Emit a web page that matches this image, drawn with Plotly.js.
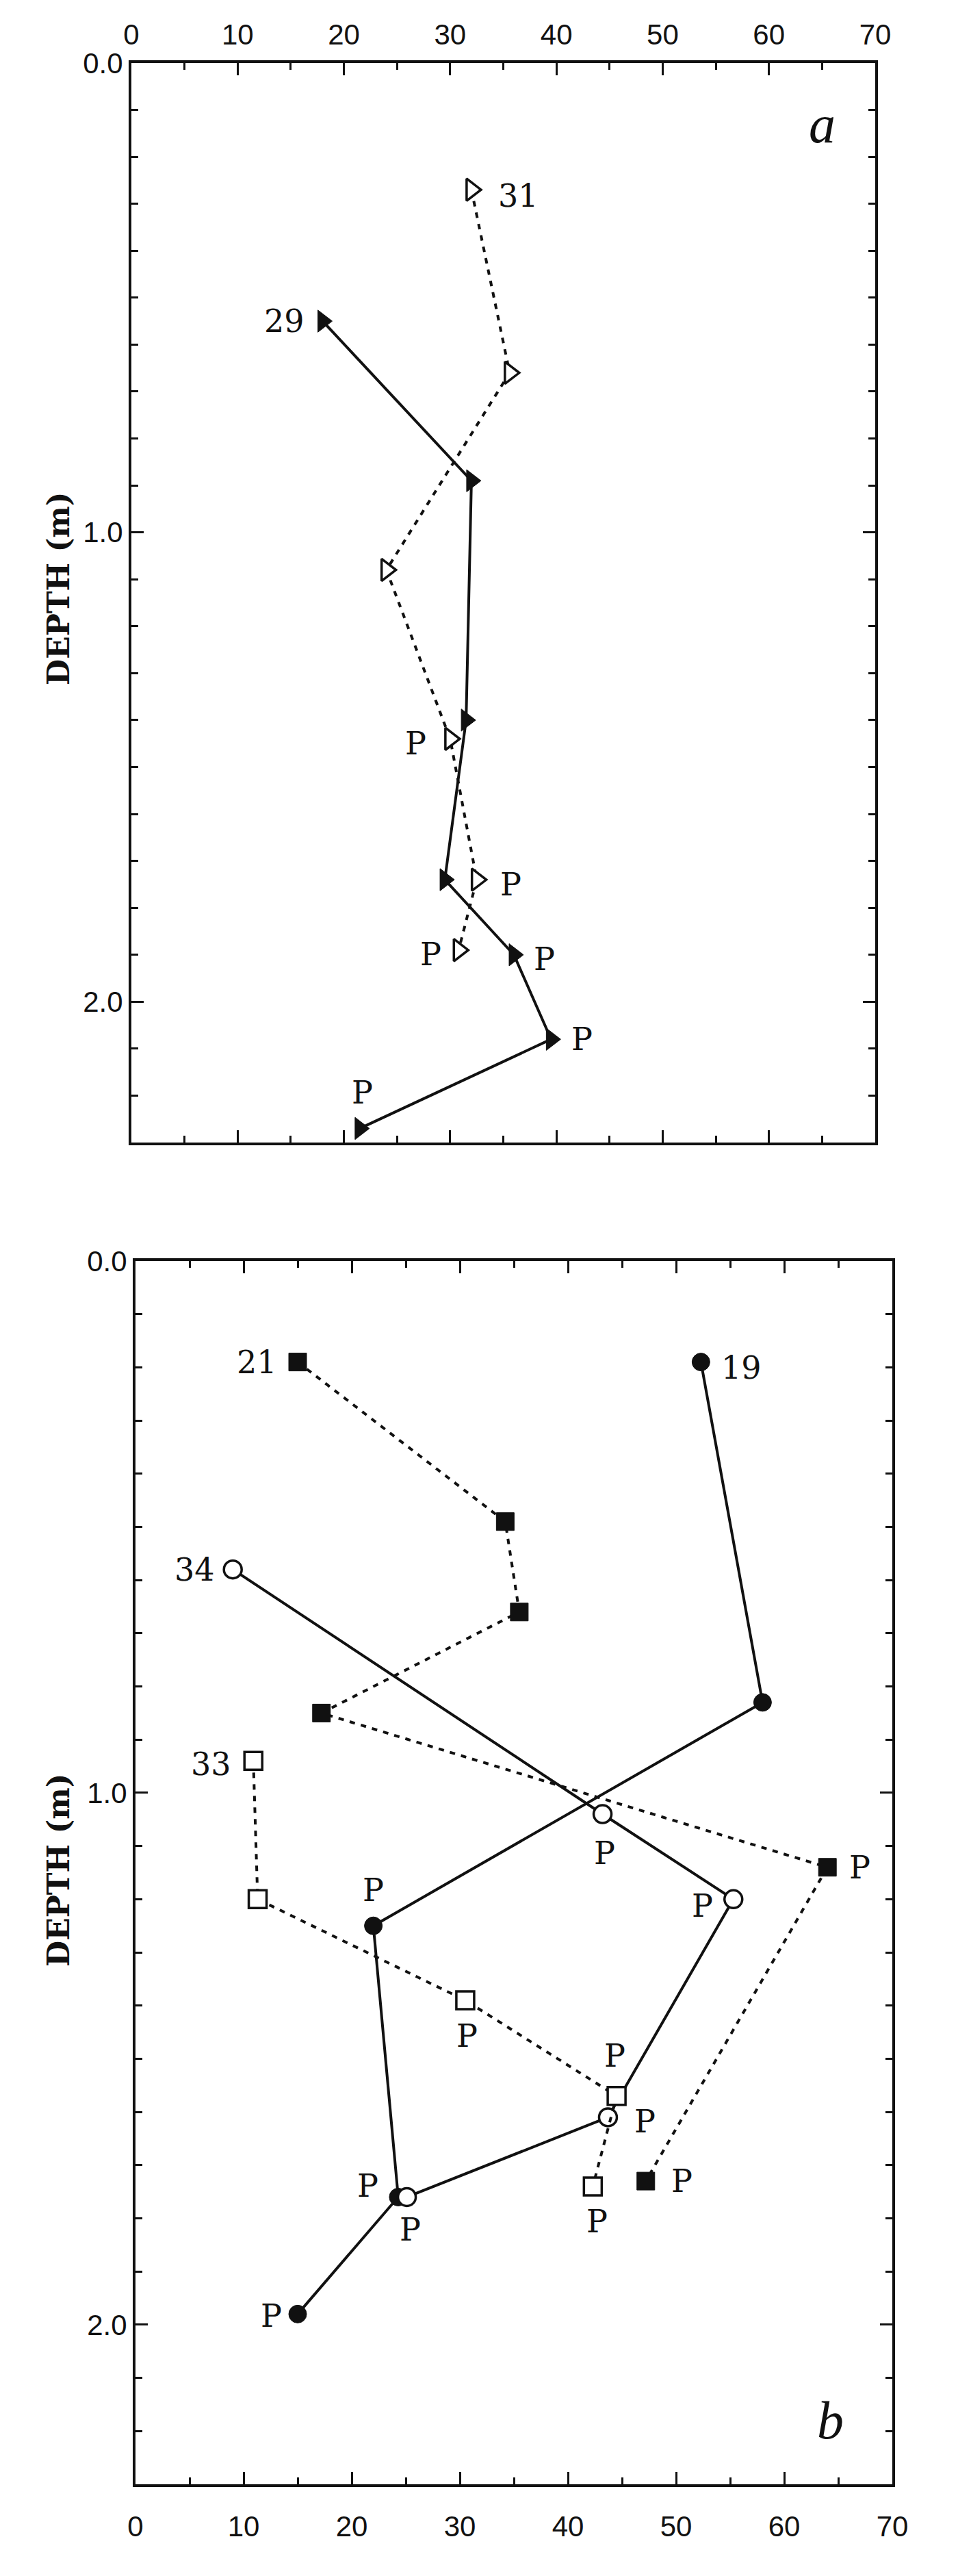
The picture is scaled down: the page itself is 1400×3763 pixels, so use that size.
<!DOCTYPE html>
<html>
<head>
<meta charset="utf-8">
<script src="https://cdn.plot.ly/plotly-3.0.1.min.js"></script>
<style>
html,body{margin:0;padding:0;background:#fff;}
#chart{width:1400px;height:3763px;}
</style>
</head>
<body>
<div id="chart"></div>
<script>
// ---- Panel a data (x value, depth in m) ----
const x29 = [18, 32, 31.5, 29.5, 36, 39.5, 21.5];
const d29 = [0.55, 0.89, 1.40, 1.74, 1.90, 2.08, 2.27];
const x31 = [32, 35.6, 24, 30, 32.5, 30.8];
const d31 = [0.27, 0.66, 1.08, 1.44, 1.74, 1.89];
// ---- Panel b data ----
const x19 = [52.3, 58, 22, 24.3, 15];
const d19 = [0.19, 0.83, 1.25, 1.76, 1.98];
const x34 = [9, 43.2, 55.3, 43.7, 25.1];
const d34 = [0.58, 1.04, 1.20, 1.61, 1.76];
const x33 = [10.9, 11.3, 30.5, 44.5, 42.3];
const d33 = [0.94, 1.20, 1.39, 1.57, 1.74];
const x21 = [15, 34.2, 35.5, 17.2, 64, 47.2];
const d21 = [0.19, 0.49, 0.66, 0.85, 1.14, 1.73];

const xTickVals = [0, 10, 20, 30, 40, 50, 60, 70];
const depthTickVals = [0, 1, 2];
const depthTickText = ['0.0', '1.0', '2.0'];

const W = 1400, H = 3763;
const SERIF = '"DejaVu Serif", "Liberation Serif", serif';
const SANS = '"Liberation Sans", Arial, sans-serif';

function line(xs, ys, xa, ya, symbol, dash, open) {
  return {
    x: xs, y: ys, xaxis: xa, yaxis: ya, type: 'scatter', mode: 'lines+markers',
    line: {color: '#111', width: 4, dash: dash ? '8px,9px' : 'solid'},
    marker: {symbol: symbol, size: symbol.indexOf('triangle') === 0 ? 28 : 26,
             color: open ? '#fff' : '#111', line: {color: '#111', width: open ? 3.5 : 1}},
    showlegend: false, hoverinfo: 'skip', cliponaxis: false
  };
}

const traces = [
  line(x29, d29, 'x', 'y', 'triangle-right', false, false),
  line(x31, d31, 'x', 'y', 'triangle-right', true, true),
  line(x19, d19, 'x2', 'y2', 'circle', false, false),
  line(x34, d34, 'x2', 'y2', 'circle', false, true),
  line(x33, d33, 'x2', 'y2', 'square', true, true),
  line(x21, d21, 'x2', 'y2', 'square', true, false)
];

// label placements: [xs, ys, index, text, xshift, yshift(down positive), axis suffix]
const labelSpecs = [
  [x31, d31, 0, '31', 69, 9, ''],
  [x29, d29, 0, '29', -56, 0, ''],
  [x31, d31, 3, 'P', -50, 7, ''],
  [x31, d31, 4, 'P', 50, 7, ''],
  [x31, d31, 5, 'P', -41, 6, ''],
  [x29, d29, 4, 'P', 44, 6, ''],
  [x29, d29, 5, 'P', 45, 0, ''],
  [x29, d29, 6, 'P', 4, -52, ''],
  [x21, d21, 0, '21', -60, 0, '2'],
  [x19, d19, 0, '19', 59, 8, '2'],
  [x34, d34, 0, '34', -56, 0, '2'],
  [x33, d33, 0, '33', -62, 5, '2'],
  [x34, d34, 1, 'P', 3, 57, '2'],
  [x21, d21, 4, 'P', 47, 0, '2'],
  [x19, d19, 2, 'P', 0, -52, '2'],
  [x34, d34, 2, 'P', -45, 10, '2'],
  [x33, d33, 2, 'P', 3, 52, '2'],
  [x33, d33, 3, 'P', -3, -59, '2'],
  [x34, d34, 3, 'P', 54, 6, '2'],
  [x21, d21, 5, 'P', 53, 0, '2'],
  [x33, d33, 4, 'P', 6, 51, '2'],
  [x19, d19, 3, 'P', -44, -16, '2'],
  [x34, d34, 4, 'P', 5, 48, '2'],
  [x19, d19, 4, 'P', -39, 3, '2']
];

const annotations = labelSpecs.map(s => ({
  x: s[0][s[2]], y: s[1][s[2]], xref: 'x' + s[6], yref: 'y' + s[6],
  text: s[3], showarrow: false, xanchor: 'center', yanchor: 'middle',
  xshift: s[4], yshift: -s[5],
  font: {family: SERIF, size: 46, color: '#111'}
}));

annotations.push(
  {x: 65, y: 0.13, xref: 'x', yref: 'y', text: '<i>a</i>', showarrow: false,
   xanchor: 'center', yanchor: 'middle', font: {family: '"Liberation Serif", serif', size: 78, color: '#111'}},
  {x: 64.3, y: 2.18, xref: 'x2', yref: 'y2', text: '<i>b</i>', showarrow: false,
   xanchor: 'center', yanchor: 'middle', font: {family: '"Liberation Serif", serif', size: 78, color: '#111'}},
  {x: 85 / W, y: 1 - 860 / H, xref: 'paper', yref: 'paper', text: '<b>DEPTH (m)</b>',
   showarrow: false, textangle: -90, xanchor: 'center', yanchor: 'middle',
   font: {family: SERIF, size: 44, color: '#111'}},
  {x: 85 / W, y: 1 - 2732 / H, xref: 'paper', yref: 'paper', text: '<b>DEPTH (m)</b>',
   showarrow: false, textangle: -90, xanchor: 'center', yanchor: 'middle',
   font: {family: SERIF, size: 44, color: '#111'}}
);

function xaxis(domain, anchor, side, standoff) {
  return {
    domain: domain, anchor: anchor, side: side, range: [0, 70],
    tickmode: 'array', tickvals: xTickVals,
    ticks: 'inside', ticklen: 18, tickwidth: 3, tickcolor: '#111',
    minor: {tickmode: 'linear', tick0: 0, dtick: 5, ticks: 'inside', ticklen: 10, tickwidth: 3, tickcolor: '#111'},
    showline: true, linewidth: 4, linecolor: '#111', mirror: 'ticks',
    showgrid: false, zeroline: false, ticklabelstandoff: standoff,
    tickfont: {family: SANS, size: 42, color: '#111'}
  };
}
function yaxis(domain, anchor) {
  return {
    domain: domain, anchor: anchor, range: [2.3, 0],
    tickmode: 'array', tickvals: depthTickVals, ticktext: depthTickText,
    ticks: 'inside', ticklen: 18, tickwidth: 3, tickcolor: '#111',
    minor: {tickmode: 'linear', tick0: 0, dtick: 0.1, ticks: 'inside', ticklen: 10, tickwidth: 3, tickcolor: '#111'},
    showline: true, linewidth: 4, linecolor: '#111', mirror: 'ticks',
    showgrid: false, zeroline: false,
    tickfont: {family: SANS, size: 42, color: '#111'}
  };
}

const layout = {
  width: W, height: H,
  margin: {l: 0, r: 0, t: 0, b: 0},
  paper_bgcolor: '#fff', plot_bgcolor: '#fff',
  showlegend: false,
  xaxis: xaxis([192 / W, 1279 / W], 'y', 'top', 6),
  yaxis: yaxis([1 - 1669 / H, 1 - 92 / H], 'x'),
  xaxis2: xaxis([198 / W, 1304 / W], 'y2', 'bottom', 22),
  yaxis2: yaxis([1 - 3629 / H, 1 - 1842 / H], 'x2'),
  annotations: annotations
};

Plotly.newPlot('chart', traces, layout, {staticPlot: true, displayModeBar: false});
</script>
</body>
</html>
